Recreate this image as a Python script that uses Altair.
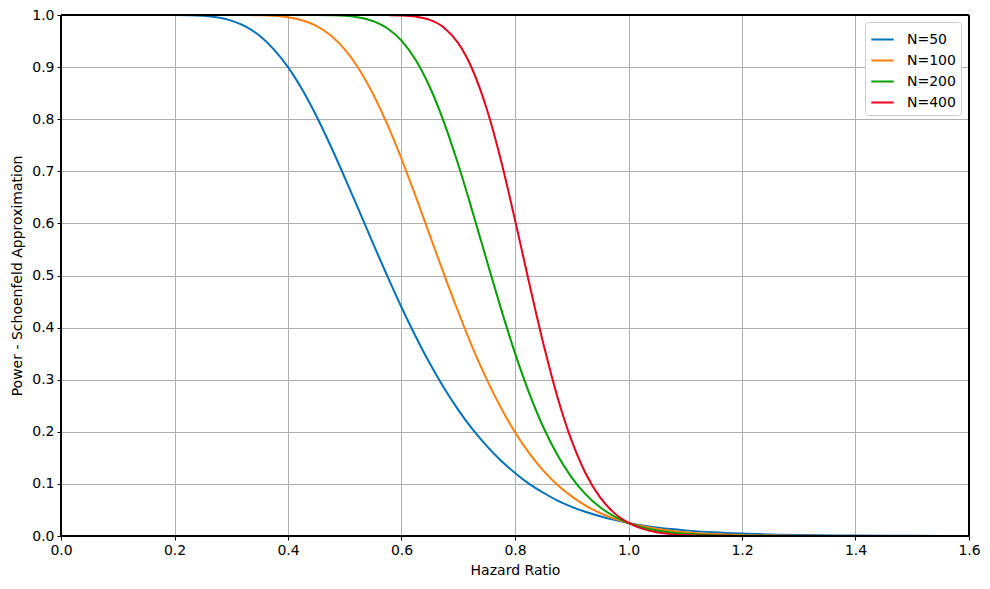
import altair as alt
import pandas as pd

hazard_ratio = [0.05, 0.1, 0.15, 0.2, 0.25, 0.3, 0.325, 0.35, 0.375, 0.4, 0.425, 0.45,
                0.475, 0.5, 0.525, 0.55, 0.575, 0.6, 0.625, 0.65, 0.675, 0.7, 0.725,
                0.75, 0.775, 0.8, 0.825, 0.85, 0.875, 0.9, 0.925, 0.95, 0.975, 1.0,
                1.025, 1.05, 1.075, 1.1, 1.15, 1.2, 1.3, 1.4, 1.5, 1.6]

power_n50 = [1.0, 1.0, 1.0, 0.9999, 0.9984, 0.9892, 0.978, 0.960, 0.934, 0.900, 0.857, 0.806,
             0.749, 0.688, 0.625, 0.561, 0.499, 0.439, 0.383, 0.331, 0.284, 0.242, 0.205,
             0.173, 0.145, 0.121, 0.100, 0.083, 0.068, 0.056, 0.046, 0.038, 0.031, 0.025,
             0.0203, 0.0165, 0.0133, 0.0108, 0.0071, 0.0046, 0.0019, 0.0008, 0.0003, 0.0001]

power_n100 = [1.0, 1.0, 1.0, 1.0, 1.0, 1.0, 0.9999, 0.9995, 0.9984, 0.9956, 0.9898, 0.979,
              0.961, 0.934, 0.8965, 0.848, 0.790, 0.724, 0.652, 0.577, 0.502, 0.430, 0.362,
              0.301, 0.2465, 0.199, 0.159, 0.1256, 0.098, 0.076, 0.058, 0.0442, 0.0334, 0.025,
              0.0186, 0.0138, 0.0101, 0.0074, 0.0039, 0.0020, 0.0005, 0.0001, 0.0, 0.0]

power_n200 = [1.0, 1.0, 1.0, 1.0, 1.0, 1.0, 1.0, 1.0, 1.0, 1.0, 1.0, 0.9999,
              0.9995, 0.9984, 0.9953, 0.9883, 0.9746, 0.9507, 0.9136, 0.8613, 0.7936, 0.713, 0.623,
              0.5297, 0.4374, 0.3511, 0.2744, 0.2087, 0.1548, 0.1122, 0.0795, 0.0551, 0.0375, 0.025,
              0.0164, 0.0106, 0.0067, 0.0042, 0.0016, 0.0006, 0.0001, 0.0, 0.0, 0.0]

power_n400 = [1.0, 1.0, 1.0, 1.0, 1.0, 1.0, 1.0, 1.0, 1.0, 1.0, 1.0, 1.0,
              1.0, 1.0, 1.0, 1.0, 0.9998, 0.9992, 0.9969, 0.9906, 0.9756, 0.946, 0.8954,
              0.8204, 0.722, 0.6068, 0.4856, 0.3688, 0.266, 0.1825, 0.119, 0.074, 0.0439, 0.025,
              0.0137, 0.0072, 0.0036, 0.0018, 0.0004, 0.0001, 0.0, 0.0, 0.0, 0.0]

series_names = ["N=50", "N=100", "N=200", "N=400"]
series_colors = ["#0072bd", "#ff7f0e", "#00a000", "#e8001c"]
x_ticks = [0.0, 0.2, 0.4, 0.6, 0.8, 1.0, 1.2, 1.4, 1.6]
y_ticks = [0.0, 0.1, 0.2, 0.3, 0.4, 0.5, 0.6, 0.7, 0.8, 0.9, 1.0]

rows = []
for i, (name, vals) in enumerate(zip(series_names, [power_n50, power_n100, power_n200, power_n400])):
    for h, p in zip(hazard_ratio, vals):
        rows.append({"hr": h, "power": p, "series": name, "order": i})
df = pd.DataFrame(rows)

font = "DejaVu Sans"
W, H = 908, 521

lines = alt.Chart(df).mark_line(strokeWidth=2, interpolate="monotone", clip=True).encode(
    x=alt.X("hr:Q", title="Hazard Ratio",
            scale=alt.Scale(domain=[0, 1.6], nice=False, zero=False),
            axis=alt.Axis(values=x_ticks, format=".1f", grid=True, labelFlush=False)),
    y=alt.Y("power:Q", title="Power - Schoenfeld Approximation",
            scale=alt.Scale(domain=[0, 1], nice=False),
            axis=alt.Axis(values=y_ticks, format=".1f", grid=True, labelFlush=False)),
    color=alt.Color("series:N", sort=series_names,
                    scale=alt.Scale(domain=series_names, range=series_colors),
                    legend=alt.Legend(title=None, orient="none", legendX=804, legendY=7,
                                      symbolType="stroke", symbolSize=500, symbolStrokeWidth=2,
                                      labelFontSize=14, labelFont=font, padding=5,
                                      strokeColor="#cccccc", fillColor="white",
                                      cornerRadius=3, rowPadding=1, labelOffset=12)),
    order=alt.Order("order:Q"),
    detail="series:N",
)

frame = alt.Chart(df).mark_rect(fill=None, fillOpacity=0, stroke="black", strokeWidth=1).encode(
    x=alt.value(0), x2=alt.value(W), y=alt.value(0), y2=alt.value(H)
)

chart = alt.layer(lines, frame).properties(
    width=W, height=H,
    autosize=alt.AutoSizeParams(type="none"),
    padding={"left": 61, "top": 15, "right": 21, "bottom": 53},
).configure_view(
    stroke=None
).configure_axis(
    labelFont=font, titleFont=font, labelFontSize=14, titleFontSize=14,
    labelColor="black", titleColor="black", titleFontWeight="normal",
    domainColor="black", tickColor="black", tickSize=4, labelPadding=3,
    gridColor="#b0b0b0", gridWidth=1, domain=True
).configure_axisX(titlePadding=6).configure_axisY(titlePadding=7)

chart.save("out.html", embed_options={"renderer": "svg", "actions": False})
